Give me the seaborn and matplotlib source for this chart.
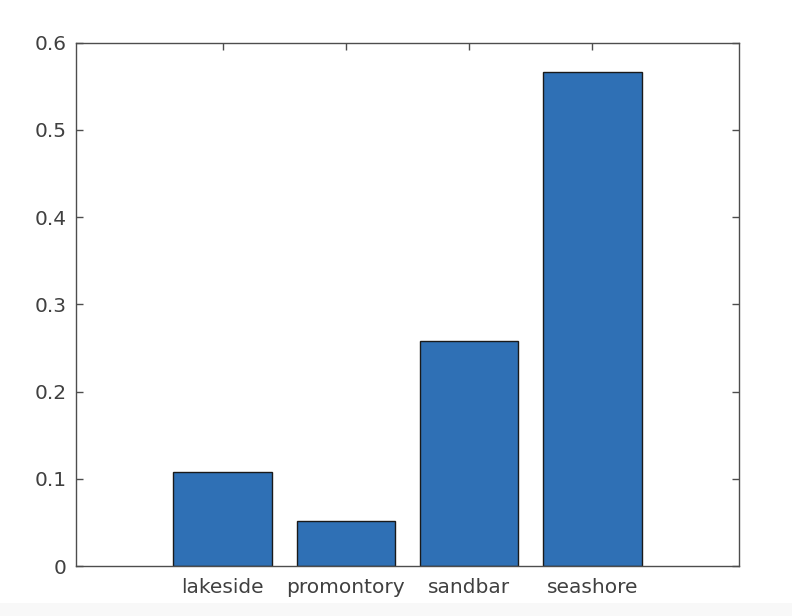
import pandas as pd
import matplotlib
matplotlib.use('Agg')
import matplotlib.pyplot as plt
import seaborn as sns

# Balkendiagramm im MATLAB-Stil
categories = ['lakeside', 'promontory', 'sandbar', 'seashore']
values = [0.1074, 0.0516, 0.2583, 0.5660]
y_ticks = [0, 0.1, 0.2, 0.3, 0.4, 0.5, 0.6]
y_tick_labels = ['0', '0.1', '0.2', '0.3', '0.4', '0.5', '0.6']

df = pd.DataFrame({'category': categories, 'value': values})

sns.set_style('white')
plt.rcParams['font.family'] = ['DejaVu Sans']

fig = plt.figure(figsize=(7.92, 6.16), dpi=100)
# leichter grauer Streifen am unteren Rand
fig.patches.append(plt.Rectangle((0, 0), 1, 13 / 616, transform=fig.transFigure,
                                 facecolor='#f8f8f8', edgecolor='none', zorder=-1))
ax = fig.add_axes([76 / 792, 50 / 616, 663 / 792, 523.3 / 616])

sns.barplot(data=df, x='category', y='value', color='#2f70b5', saturation=1,
            width=0.8, edgecolor='#1a1a1a', linewidth=1.0, ax=ax)

ax.set_xlim(-1.19, 4.19)
ax.set_ylim(0, 0.6)
ax.set_yticks(y_ticks)
ax.set_yticklabels(y_tick_labels)
ax.set_xlabel('')
ax.set_ylabel('')

for side in ['left', 'right', 'top', 'bottom']:
    ax.spines[side].set_visible(True)
    ax.spines[side].set_color('#4d4d4d')
    ax.spines[side].set_linewidth(1.0)

ax.tick_params(axis='both', which='both', direction='in', length=5, width=1,
               color='#4d4d4d', labelcolor='#404040', labelsize=14.5,
               top=True, right=True, bottom=True, left=True)
ax.tick_params(axis='y', pad=7)
ax.tick_params(axis='x', pad=8.5)

fig.savefig('out.png', dpi=100)
